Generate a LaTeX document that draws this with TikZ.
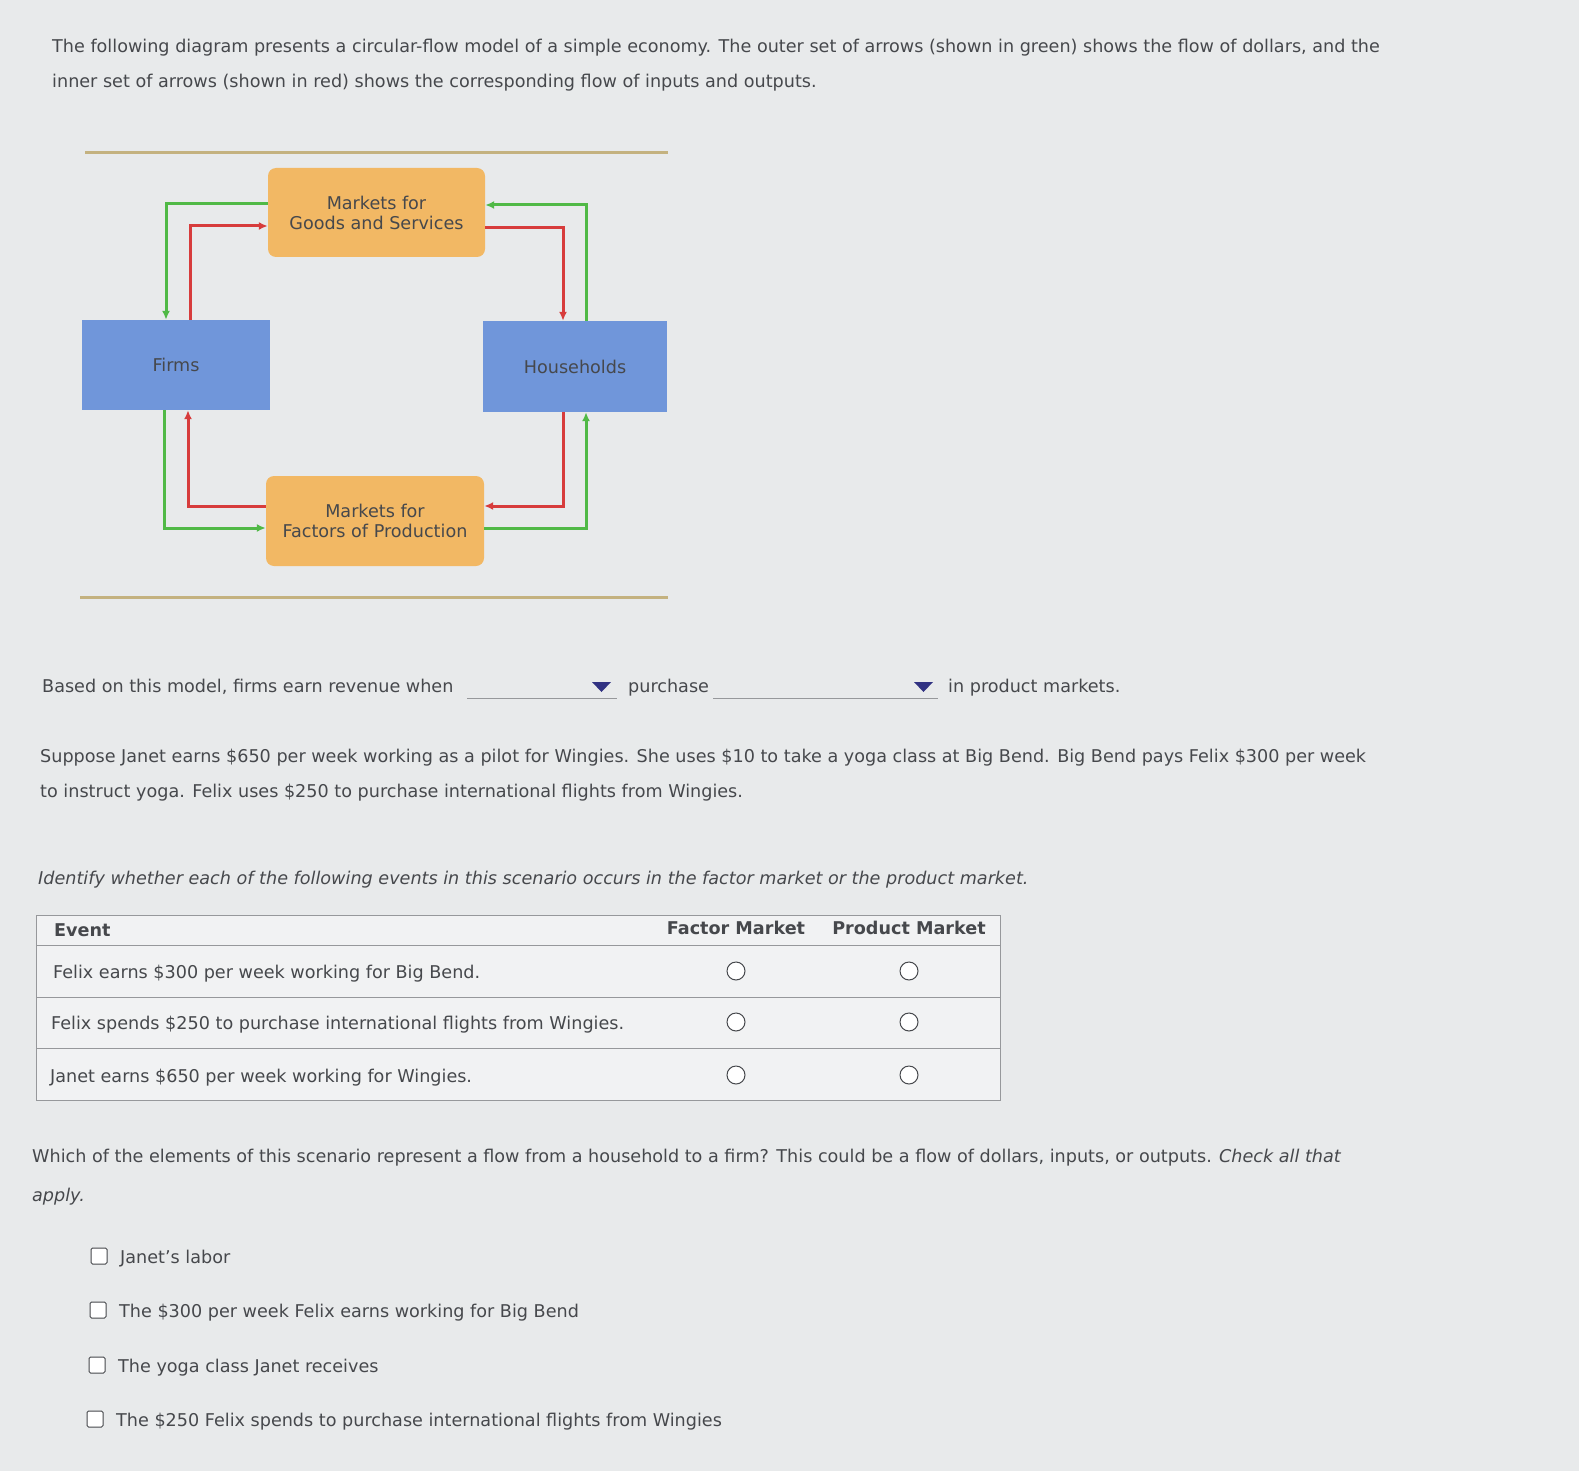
\documentclass[tikz,border=0pt]{standalone}
\usepackage{fontspec}
\setmainfont{DejaVu Sans}
\definecolor{bg}{RGB}{232,234,235}
\definecolor{txt}{RGB}{70,72,76}
\definecolor{tan}{RGB}{196,178,128}
\definecolor{orng}{RGB}{242,184,100}
\definecolor{blu}{RGB}{112,150,218}
\definecolor{grn}{RGB}{80,185,70}
\definecolor{rd}{RGB}{215,60,60}
\definecolor{rule}{RGB}{150,152,155}
\usetikzlibrary{arrows.meta}
\tikzset{
 t/.style={anchor=base west,inner sep=0pt,text=txt,font=\fontsize{17.6}{20}\selectfont},
 obox/.style={fill=orng,rounded corners=8pt,text=txt,align=center,font=\fontsize{17.6}{20}\selectfont},
 bbox/.style={fill=blu,text=txt,font=\fontsize{17.6}{20}\selectfont},
 ga/.style={draw=grn,line width=3pt,-{Latex[length=9pt,width=8pt]}},
 ra/.style={draw=rd,line width=3pt,-{Latex[length=9pt,width=8pt]}},
 rad/.style={draw=txt,line width=1pt,fill=white,circle,minimum size=18pt,inner sep=0pt},
 chk/.style={draw=txt,line width=1pt,fill=white,rounded corners=1.5pt,minimum size=16pt,inner sep=0pt}
}
\begin{document}
\begin{tikzpicture}[x=1pt,y=-1pt]
\fill[bg] (0,0) rectangle (1579,1471);
\useasboundingbox (0,0) rectangle (1579,1471);
\node[t] (p1) at (52,53) {The following diagram presents a circular-flow model of a simple economy. The outer set of arrows (shown in green) shows the flow of dollars, and the};
\node[t] (p2) at (52,88) {inner set of arrows (shown in red) shows the corresponding flow of inputs and outputs.};
% tan lines
\draw[tan,line width=3pt] (85,153) -- (668,153);
\draw[tan,line width=3pt] (80,597) -- (668,597);
% boxes
\node[obox,minimum width=217pt,minimum height=89pt] (G) at (376.5,212.5) {Markets for\\Goods and Services};
\node[obox,minimum width=218pt,minimum height=90pt] (F) at (375,521) {Markets for\\Factors of Production};
\node[bbox,minimum width=188pt,minimum height=90pt] (Fi) at (176,365) {Firms};
\node[bbox,minimum width=184pt,minimum height=91pt] (H) at (575,366.5) {Households};
% arrows
\draw[ga] ([yshift=8.5pt]G.west) -| ([xshift=-10pt]Fi.north);
\draw[ra] ([xshift=14pt]Fi.north) |- ([yshift=-13.5pt]G.west);
\draw[ga] ([xshift=11pt]H.north) |- ([yshift=7.5pt]G.east);
\draw[ra] ([yshift=-15.5pt]G.east) -| ([xshift=-12pt]H.north);
\draw[ra] ([xshift=-12pt]H.south) |- ([yshift=15pt]F.east);
\draw[ga] ([yshift=-7pt]F.east) -| ([xshift=11pt]H.south);
\draw[ra] ([yshift=15pt]F.west) -| ([xshift=12pt]Fi.south);
\draw[ga] ([xshift=-12pt]Fi.south) |- ([yshift=-7pt]F.west);
% dropdown sentence
\node[t] (s1) at (42,692) {Based on this model, firms earn revenue when};
\draw[rule,line width=1pt] (467,698) coordinate (d1a) -- (617,698) coordinate (d1b);
\fill[txt!70!blue] (592,682) -- (611,682) -- (601.5,692) -- cycle;
\node[t] (s2) at (628,692) {purchase};
\draw[rule,line width=1pt] (713,698) coordinate (d2a) -- (938,698) coordinate (d2b);
\fill[txt!70!blue] (914,682) -- (933,682) -- (923.5,692) -- cycle;
\node[t] (s3) at (948,692) {in product markets.};
\node[t] (q1) at (40,762) {Suppose Janet earns \$650 per week working as a pilot for Wingies. She uses \$10 to take a yoga class at Big Bend. Big Bend pays Felix \$300 per week};
\node[t] (q2) at (40,797) {to instruct yoga. Felix uses \$250 to purchase international flights from Wingies.};
\node[t,font=\fontsize{17.6}{20}\selectfont\itshape] (q3) at (38,884) {Identify whether each of the following events in this scenario occurs in the factor market or the product market.};
% table
\draw[rule,line width=1pt,fill=bg!60!white] (36,915) rectangle (1000,1100);
\draw[rule,line width=1pt] (36,945) -- (1000,945);
\draw[rule,line width=1pt] (36,997) -- (1000,997);
\draw[rule,line width=1pt] (36,1048) -- (1000,1048);
\node[t,font=\fontsize{17.6}{20}\selectfont\bfseries] (h1) at (54,936) {Event};
\node[anchor=base,inner sep=0pt,text=txt,font=\fontsize{17.6}{20}\selectfont\bfseries] (h2) at (736,934) {Factor Market};
\node[anchor=base,inner sep=0pt,text=txt,font=\fontsize{17.6}{20}\selectfont\bfseries] (h3) at (909,934) {Product Market};
\node[t] (r1) at (53,978) {Felix earns \$300 per week working for Big Bend.};
\node[t] (r2) at (51,1029) {Felix spends \$250 to purchase international flights from Wingies.};
\node[t] (r3) at (50,1082) {Janet earns \$650 per week working for Wingies.};
\node[rad] (c11) at (736,971) {}; \node[rad] (c12) at (909,971) {};
\node[rad] (c21) at (736,1022) {}; \node[rad] (c22) at (909,1022) {};
\node[rad] (c31) at (736,1075) {}; \node[rad] (c32) at (909,1075) {};
\node[t] (w1) at (32,1162) {Which of the elements of this scenario represent a flow from a household to a firm? This could be a flow of dollars, inputs, or outputs. \textit{Check all that}};
\node[t,font=\fontsize{17.6}{20}\selectfont\itshape] (w2) at (32,1201) {apply.};
\node[chk] (k1) at (99,1256) {}; \node[t] (l1) at (120,1263) {Janet's labor};
\node[chk] (k2) at (98,1310) {}; \node[t] (l2) at (119,1317) {The \$300 per week Felix earns working for Big Bend};
\node[chk] (k3) at (97,1365) {}; \node[t] (l3) at (118,1372) {The yoga class Janet receives};
\node[chk] (k4) at (95,1419) {}; \node[t] (l4) at (116,1426) {The \$250 Felix spends to purchase international flights from Wingies};
\end{tikzpicture}
\end{document}
